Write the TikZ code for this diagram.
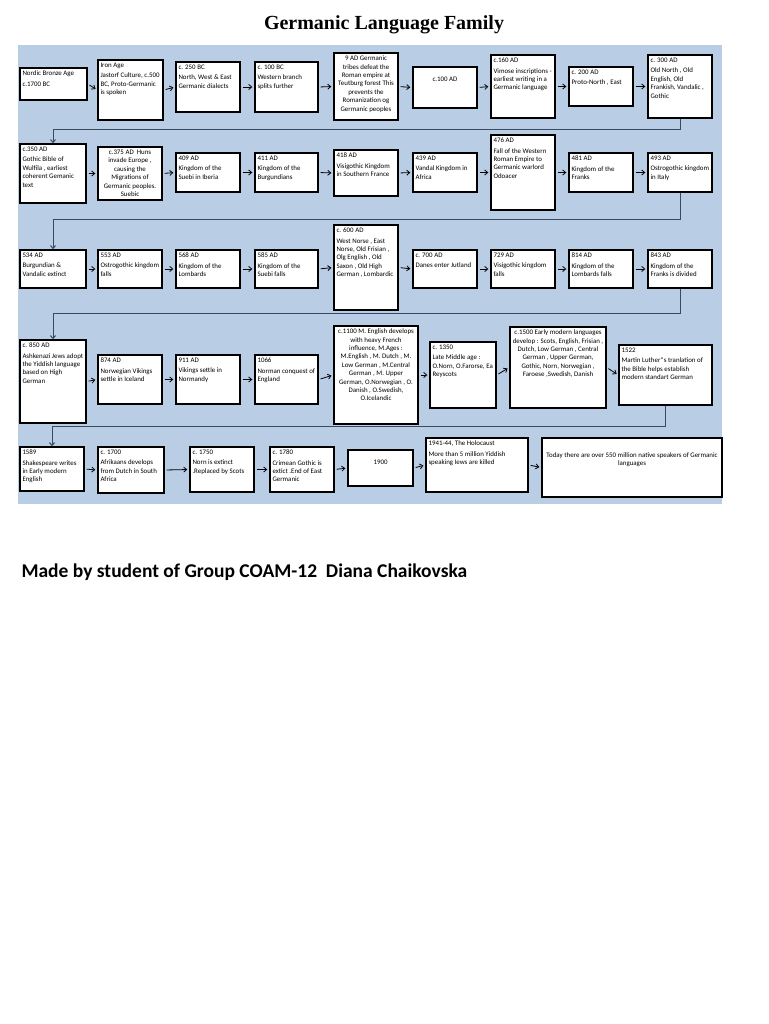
\documentclass[tikz,border=0pt]{standalone}
\usepackage{fontspec}
\setmainfont{Carlito}
\newfontfamily\titlefont{Liberation Serif}
\usetikzlibrary{arrows.meta}
\definecolor{bg}{HTML}{B9CDE5}
\definecolor{ln}{HTML}{3A4A5E}
\AtBeginDocument{\hyphenpenalty=10000\relax\exhyphenpenalty=10000\relax}
\tikzset{
 box/.style={draw=black,line width=1.4pt,fill=white,inner sep=0pt},
 txt/.style={font=\fontsize{6.9}{8.4}\selectfont,inner sep=0pt},
 arr/.style={-{Straight Barb[length=3pt,width=5pt]},line width=0.8pt,shorten <=2pt,shorten >=2pt},
 link/.style={draw=ln,line width=1pt,-{Straight Barb[length=3pt,width=5pt]}},
}
\newcommand\bx[7]{%
 \pgfmathsetmacro\bw{#4-#2}\pgfmathsetmacro\bh{#5-#3}\pgfmathsetmacro\tw{#4-#2-5}%
 \pgfmathsetmacro\cx{(#2+#4)/2}\pgfmathsetmacro\cy{(#3+#5)/2}%
 \node[box,minimum width=\bw pt,minimum height=\bh pt] (#1) at (\cx,\cy) {};
 \node[txt,align=#6,text width=\tw pt,anchor=north] at ([yshift=-3.5pt]#1.north) {#7};}
\begin{document}
\begin{tikzpicture}[x=1pt,y=-1pt]
\useasboundingbox[fill=white] (0,0) rectangle (768,1024);
\fill[bg] (18,45) rectangle (722,504);
\node[font=\titlefont\bfseries\fontsize{20}{24}\selectfont] (title) at (384,25) {Germanic Language Family};
\node[font=\bfseries\fontsize{19.5}{23}\selectfont,anchor=west] (credit) at (18,572) {Made by student of Group COAM-12\ \ Diana Chaikovska};
% row 1
\bx{a1}{20}{68}{87}{100}{flush left}{Nordic Bronze Age\\[2pt]c.1700 BC}
\bx{a2}{98}{60}{163}{120}{flush left}{Iron Age\\[2pt]Jastorf Culture, c.500 BC, Proto-Germanic is spoken}
\bx{a3}{176}{62}{240}{112}{flush left}{c. 250 BC\\[2pt]North, West \& East Germanic dialects}
\bx{a4}{255}{62}{318}{112}{flush left}{c. 100 BC\\[2pt]Western branch splits further}
\bx{a5}{334}{53}{398}{120}{flush center}{9 AD Germanic tribes defeat the Roman empire at Teutburg forest This prevents the Romanization og Germanic peoples}
\bx{a6}{413}{67}{477}{108}{flush center}{\\[3pt]c.100 AD}
\bx{a7}{491}{55}{555}{118}{flush left}{c.160 AD\\[2pt]Vimose inscriptions - earliest writing in a Germanic language}
\bx{a8}{569}{67}{633}{106}{flush left}{c. 200 AD\\[2pt]Proto-North , East}
\bx{a9}{648}{55}{712}{118}{flush left}{c. 300 AD\\[2pt]Old North , Old English, Old Frankish, Vandalic , Gothic}
% row 2
\bx{b1}{20}{144}{86}{203}{flush left}{c.350 AD\\[2pt]Gothic Bible of Wulfila , earliest coherent Gemanic text}
\bx{b2}{98}{147}{162}{200}{flush center}{c.375 AD\ \ Huns invade Europe , causing the Migrations of Germanic peoples. Suebic}
\bx{b3}{176}{153}{240}{192}{flush left}{409 AD\\[2pt]Kingdom of the Suebi in Iberia}
\bx{b4}{255}{153}{318}{192}{flush left}{411 AD\\[2pt]Kingdom of the Burgundians}
\bx{b5}{334}{150}{398}{196}{flush left}{418 AD\\[2pt]Visigothic Kingdom in Southern France}
\bx{b6}{413}{153}{477}{192}{flush left}{439 AD\\[2pt]Vandal Kingdom in Africa}
\bx{b7}{491}{135}{555}{210}{flush left}{476 AD\\[2pt]Fall of the Western Roman Empire to Germanic warlord Odoacer}
\bx{b8}{569}{153}{633}{192}{flush left}{481 AD\\[2pt]Kingdom of the Franks}
\bx{b9}{648}{153}{712}{192}{flush left}{493 AD\\[2pt]Ostrogothic kingdom in Italy}
% row 3
\bx{c1}{20}{250}{86}{288}{flush left}{534 AD\\[2pt]Burgundian \& Vandalic extinct}
\bx{c2}{98}{250}{162}{288}{flush left}{553 AD\\[2pt]Ostrogothic kingdom falls}
\bx{c3}{176}{250}{240}{288}{flush left}{568 AD\\[2pt]Kingdom of the Lombards}
\bx{c4}{255}{250}{318}{288}{flush left}{585 AD\\[2pt]Kingdom of the Suebi falls}
\bx{c5}{334}{225}{398}{310}{flush left}{c. 600 AD\\[2pt]West Norse , East Norse, Old Frisian , Olg English , Old Saxon , Old High German , Lombardic}
\bx{c6}{413}{250}{477}{288}{flush left}{c. 700 AD\\[2pt]Danes enter Jutland}
\bx{c7}{491}{250}{555}{288}{flush left}{729 AD\\[2pt]Visigothic kingdom falls}
\bx{c8}{569}{250}{633}{288}{flush left}{814 AD\\[2pt]Kingdom of the Lombards falls}
\bx{c9}{648}{250}{712}{288}{flush left}{843 AD\\[2pt]Kingdom of the Franks is divided}
% row 4
\bx{d1}{20}{340}{86}{423}{flush left}{c. 850 AD\\[2pt]Ashkenazi Jews adopt the Yiddish language based on High German}
\bx{d2}{98}{355}{162}{404}{flush left}{874 AD\\[2pt]Norwegian Vikings settle in Iceland}
\bx{d3}{176}{355}{240}{404}{flush left}{911 AD\\[2pt]Vikings settle in Normandy}
\bx{d4}{255}{355}{318}{404}{flush left}{1066\\[2pt]Norman conquest of England}
\bx{d5}{334}{326}{418}{424}{flush center}{c.1100 M. English develops with heavy French influence, M.Ages : M.English , M. Dutch , M. Low German , M.Central German , M. Upper German, O.Norwegian , O. Danish , O.Swedish, O.Icelandic}
\bx{d6}{430}{342}{496}{408}{flush left}{c. 1350\\[2pt]Late Middle age : O.Norn, O.Farorse, Ea Reyscots}
\bx{d7}{510}{327}{606}{408}{flush center}{c.1500 Early modern languages develop : Scots, English, Frisian , Dutch, Low German , Central German , Upper German, Gothic, Norn, Norwegian , Faroese ,Swedish, Danish}
\bx{d8}{619}{345}{712}{405}{flush left}{1522\\[2pt]Martin Luther*s tranlation of the Bible helps establish modern standart German}
% row 5
\bx{e1}{20}{447}{84}{491}{flush left}{1589\\[2pt]Shakespeare writes in Early modern English}
\bx{e2}{98}{447}{164}{493}{flush left}{c. 1700\\[2pt]Afrikaans develops from Dutch in South Africa}
\bx{e3}{190}{447}{254}{492}{flush left}{c. 1750\\[2pt]Norn is extinct .Replaced by Scots}
\bx{e4}{270}{447}{334}{492}{flush left}{c. 1780\\[2pt]Crimean Gothic is extict .End of East Germanic}
\bx{e5}{348}{450}{413}{486}{flush center}{\\[3pt]1900}
\bx{e6}{426}{438}{528}{492}{flush left}{1941-44, The Holocaust\\[2pt]More than 5 million Yiddish speaking Iews are killed}
\bx{e7}{542}{438}{722}{497}{flush center}{\\[8pt]Today there are over 550 million native speakers of Germanic languages}
% arrows
\foreach \r/\n in {a/9,b/9,c/9,d/8,e/7}{
 \pgfmathtruncatemacro\m{\n-1}
 \foreach \i in {1,...,\m}{
  \pgfmathtruncatemacro\j{\i+1}
  \draw[arr] (\r\i.east) -- (\r\j.west);
 }}
% row links
\coordinate (k1) at (a9.south |- 0,130); \coordinate (k2) at (b1.north |- 0,130);
\draw[link] (a9.south) -- (k1) -- (k2) -- (b1.north);
\coordinate (k3) at (b9.south |- 0,220); \coordinate (k4) at (c1.north |- 0,220);
\draw[link] (b9.south) -- (k3) -- (k4) -- (c1.north);
\coordinate (k5) at (c9.south |- 0,313); \coordinate (k6) at (d1.north |- 0,313);
\draw[link] (c9.south) -- (k5) -- (k6) -- (d1.north);
\coordinate (k7) at (d8.south |- 0,426); \coordinate (k8) at (e1.north |- 0,426);
\draw[link] (d8.south) -- (k7) -- (k8) -- (e1.north);
\end{tikzpicture}
\end{document}
